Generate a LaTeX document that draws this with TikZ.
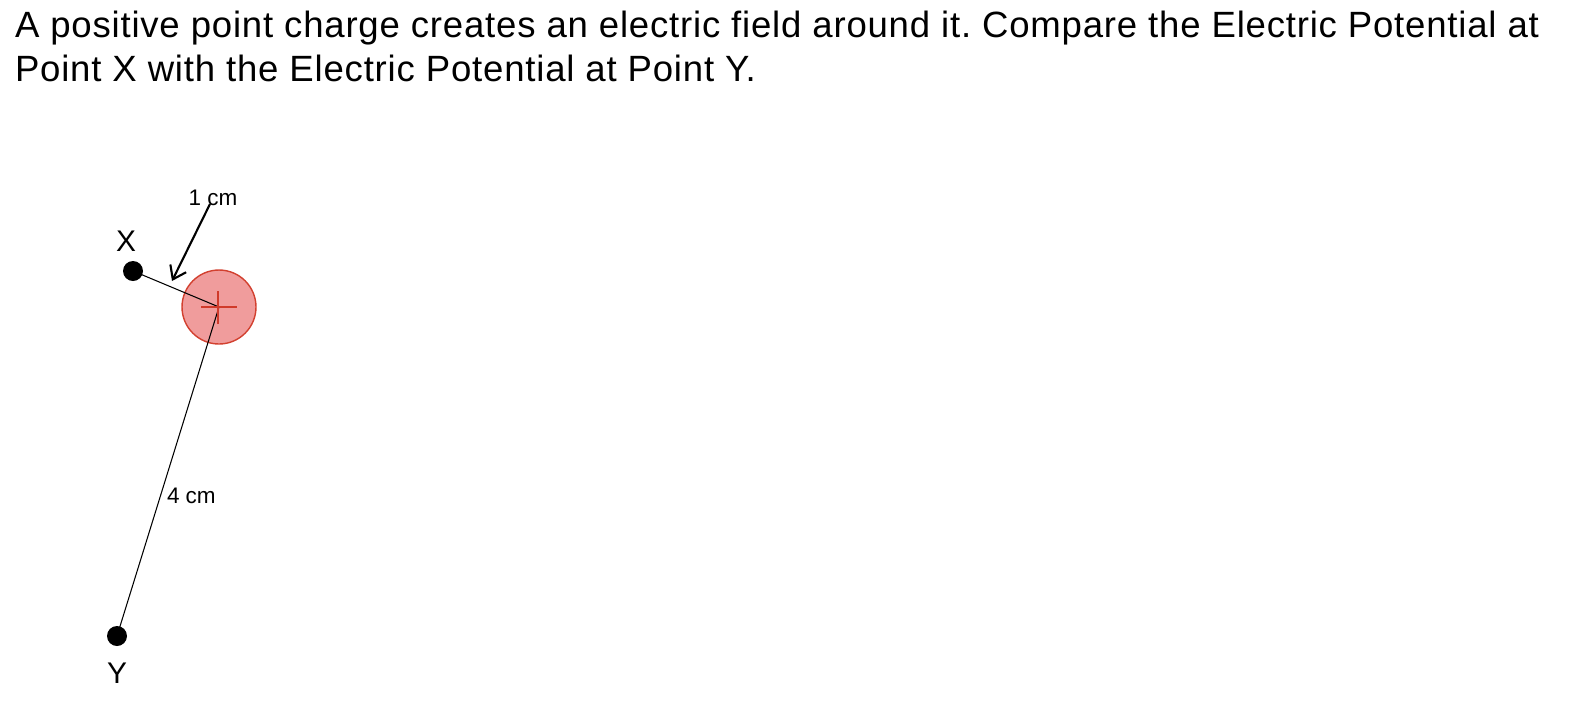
\documentclass[tikz,border=0pt]{standalone}
\usepackage{fontspec}
\setmainfont{Liberation Sans}
\newfontfamily\titlefont[LetterSpace=2.2]{Liberation Sans}
\frenchspacing
\usetikzlibrary{arrows.meta}
\definecolor{chargefill}{HTML}{F09C9C}
\definecolor{chargeedge}{HTML}{D2402F}
\definecolor{plusred}{HTML}{D03A2A}

\begin{document}
\begin{tikzpicture}[
		x=0.02cm, y=-0.02cm,
		every node/.style={inner sep=0pt, outer sep=0pt},
		every label/.append style={font=\fontsize{17}{20}\selectfont},
		dot/.style={circle, fill=black, minimum size=0.4cm},
		dist/.style={font=\fontsize{12.8}{15}\selectfont},
		title/.style={anchor=base west, font=\titlefont\fontsize{20.8}{25}\selectfont}
	]
  \useasboundingbox (0,0) rectangle (1594,708);
  \node (title1) [title] at (15,37) {A positive point charge creates an electric field around it. Compare the Electric Potential at};
  \node (title2) [title] at (15,81) {Point X with the Electric Potential at Point Y.};
  \node (q) [circle, draw=chargeedge, fill=chargefill, line width=0.8pt, minimum size=1.48cm] at (219,307) {};
  \node (ptX) [dot, label={[label distance=0.2cm, xshift=-0.14cm]above:X}] at (133,271) {};
  \node (ptY) [dot, label={[label distance=0.34cm]below:Y}] at (117,636) {};
  \node (d1) [dist] at (213,198) {1 cm};
  \node (d4) [dist, anchor=west] at (167,496) {4 cm};
  \coordinate (tail) at (210,204);
  \coordinate (tip) at (172,281);
  \draw [line width=0.6pt] (ptX.center) -- (q.center) -- (ptY.center);
  \draw [plusred, line width=0.8pt] (201,307) -- (237,307) (218,291) -- (218,324);
  \draw [line width=1.2pt, -{Straight Barb[length=7pt, width=10pt]}] (tail) -- (tip);
\end{tikzpicture}
\end{document}
